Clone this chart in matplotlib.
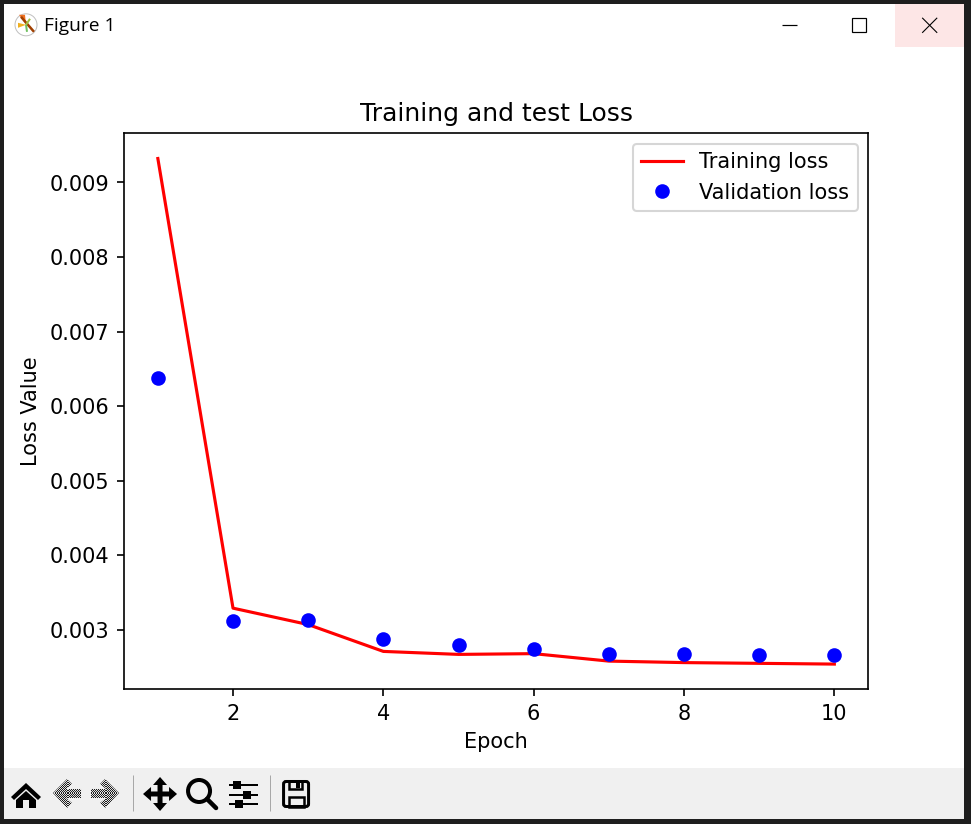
import matplotlib
matplotlib.use("Agg")
import matplotlib.pyplot as plt
import numpy as np
from matplotlib.patches import Circle, FancyBboxPatch, Polygon, Rectangle

W, H = 971, 824
DPI = 150

epochs = [1, 2, 3, 4, 5, 6, 7, 8, 9, 10]
train_loss = [0.00932, 0.00329, 0.00307, 0.00271, 0.00267, 0.00268, 0.00258, 0.00256, 0.00255, 0.00254]
val_loss = [0.00637, 0.00312, 0.00313, 0.00287, 0.00279, 0.00274, 0.00268, 0.00268, 0.00266, 0.00266]

fig = plt.figure(figsize=((W + 0.2) / DPI, (H + 0.2) / DPI), dpi=DPI, facecolor="#1e1e1e")

# ===== 1. Window frame, drawn in pixel coordinates =====
win = fig.add_axes([0, 0, 1, 1], zorder=0)
win.set_xlim(0, W)
win.set_ylim(H, 0)
win.axis("off")

PX = 72 / DPI  # one pixel in points


def line(x, y, color="black", px=1.0):
    win.plot(x, y, color=color, lw=px * PX, solid_capstyle="butt")


def dithered(points):
    # disabled toolbar icons are a 1px black/white checker
    xs = [p[0] for p in points]
    ys = [p[1] for p in points]
    x0, x1, y0, y1 = min(xs), max(xs), min(ys), max(ys)
    yy, xx = np.indices((y1 - y0, x1 - x0))
    img = win.imshow((xx + yy) % 2, cmap="gray", vmin=-0.15, vmax=1.15, extent=(x0, x1, y1, y0),
                     interpolation="nearest", aspect="auto", zorder=3)
    clip = Polygon(points, transform=win.transData, fc="none", ec="none")
    win.add_patch(clip)
    img.set_clip_path(clip)


win.add_patch(Rectangle((4, 4), 960, 815, fc="white", ec="none"))
win.add_patch(Rectangle((4, 768), 960, 51, fc="#f0f0f0", ec="none"))
win.add_patch(Rectangle((895, 4), 69, 43, fc="#fde6e6", ec="none"))

# app icon
win.add_patch(Circle((26, 25), 11, fc="white", ec="#c0c0c0", lw=1 * PX))
line([21, 34], [17, 32], "#a04000", 2.5)
win.add_patch(Polygon([[26, 25], [19, 15], [25, 15]], fc="#f07020", ec="none"))
win.add_patch(Polygon([[26, 25], [18, 23], [18, 28]], fc="#f0b020", ec="none"))
line([26, 30], [25, 19], "#a0c040", 2)
line([26, 27], [25, 32], "#70c060", 2)
win.text(44, 25.5, "Figure 1", fontsize=9.2, family="Open Sans", va="center", ha="left")

# window buttons
line([782, 797], [25, 25], px=1.2)
win.add_patch(Rectangle((851.5, 18.5), 14, 14, fc="none", ec="black", lw=1.2 * PX))
line([922, 937], [18, 33], px=1.1)
line([922, 937], [33, 18], px=1.1)

# toolbar: home
win.add_patch(Polygon([[26, 783], [41, 797], [38, 800], [26, 789], [14, 800], [11, 797]], fc="black", ec="none"))
win.add_patch(Polygon([[26, 791], [36, 800], [36, 808], [29, 808], [29, 800], [23, 800], [23, 808], [16, 808], [16, 800]], fc="black", ec="none"))

# toolbar: back / forward (disabled)
back = [[53, 793], [67, 779], [72, 784], [66, 789], [81, 789], [81, 798], [66, 798], [72, 803], [67, 808]]
dithered(back)
dithered([[172 - x, y] for x, y in back])
win.set_xlim(0, W)
win.set_ylim(H, 0)

line([132.5, 132.5], [775, 811], "#a8a8a8", 1)

# toolbar: pan
move = [[160, 777], [167, 785], [162.5, 785], [162.5, 791.5], [169, 791.5], [169, 787], [177, 794], [169, 801], [169, 796.5],
        [162.5, 796.5], [162.5, 803], [167, 803], [160, 811], [153, 803], [157.5, 803], [157.5, 796.5], [151, 796.5],
        [151, 801], [143, 794], [151, 787], [151, 791.5], [157.5, 791.5], [157.5, 785], [153, 785]]
win.add_patch(Polygon(move, fc="black", ec="none"))

# toolbar: zoom
win.add_patch(Circle((199, 791), 11, fc="none", ec="black", lw=4 * PX))
win.plot([207, 216], [799, 808], color="black", lw=4.5 * PX, solid_capstyle="round")

# toolbar: sliders
for y_s, x_s in [(785, 237), (795, 247), (804, 239)]:
    line([229, 258], [y_s, y_s], px=2)
    win.add_patch(Rectangle((x_s - 4, y_s - 4), 8, 8, fc="black", ec="none"))

line([269.5, 269.5], [775, 811], "#a8a8a8", 1)

# toolbar: save
win.add_patch(FancyBboxPatch((283.5, 781.5), 25, 25, boxstyle="round,pad=0,rounding_size=2.5", fc="none", ec="black", lw=3 * PX))
win.add_patch(Rectangle((289, 781), 13, 8, fc="none", ec="black", lw=2.5 * PX))
win.add_patch(Rectangle((296, 782), 4, 6, fc="black", ec="none"))
win.add_patch(Rectangle((288.5, 797), 15, 10, fc="none", ec="black", lw=2.5 * PX))

# ===== 2. Plot =====
ax = fig.add_axes([124 / W, 1 - 689.4 / H, (868 - 124) / W, (689.4 - 133.4) / H], zorder=1)
ax.plot(epochs, train_loss, "r", label="Training loss")
ax.plot(epochs, val_loss, "bo", label="Validation loss")
ax.set_title("Training and test Loss")
ax.set_xlabel("Epoch")
ax.set_ylabel("Loss Value")
ax.legend()

fig.savefig("out.png", dpi=DPI, facecolor=fig.get_facecolor())
